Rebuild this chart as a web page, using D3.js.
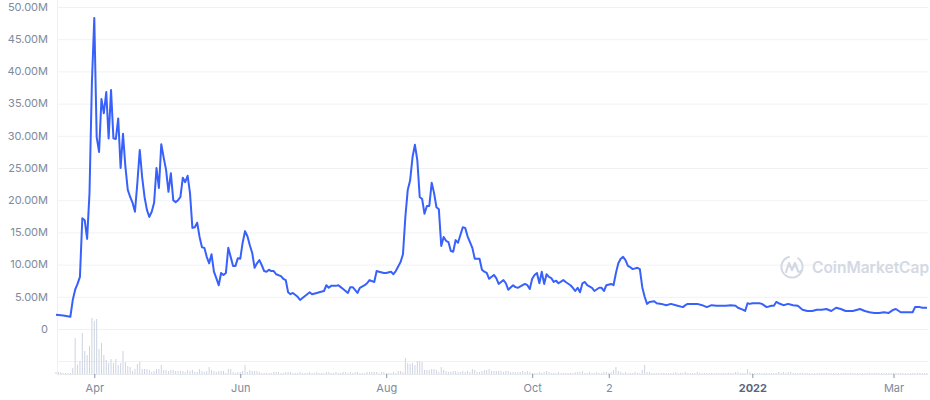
<!DOCTYPE html>
<html><head><meta charset="utf-8">
<script src="https://cdn.jsdelivr.net/npm/d3@7"></script>
<style>
body{margin:0;background:#fff}
svg{display:block;font-family:Inter,"Noto Sans",sans-serif}
</style>
</head><body>
<svg id="chart" width="930" height="400"></svg>
<script>
// ---- data ----
const startDate = "2021-03-16";
const endDate = "2022-03-15";
// price line: day offset from startDate, value in millions
const priceDays = [
  0,3,6,7,8,9,10,11,12,13,
  14,15,16,17,18,19,20,21,22,23,
  24,25,26,27,28,29,30,31,32,33,
  34,35,36,37,38,39,40,41,42,43,
  44,45,46,47,48,49,50,51,52,53,
  54,55,56,57,58,59,60,61,62,63,
  64,65,66,67,68,69,70,71,72,73,
  74,75,76,77,78,79,80,81,82,83,
  84,85,86,87,88,89,90,91,92,94,
  95,96,97,98,99,101,102,103,105,106,
  107,109,110,112,113,114,115,117,118,119,
  120,122,123,124,126,127,129,130,131,133,
  134,135,137,138,140,141,142,144,145,146,
  147,148,149,150,151,152,153,154,155,156,
  157,158,159,160,161,162,163,164,165,166,
  167,168,170,171,172,173,174,175,177,178,
  179,180,181,183,184,185,187,188,189,191,
  192,193,195,196,197,198,199,200,201,202,
  203,204,205,206,207,208,209,210,212,213,
  215,216,217,218,219,220,221,222,224,225,
  227,228,229,230,232,233,234,235,236,237,
  238,239,240,241,243,244,245,246,247,248,
  250,251,253,255,257,259,262,263,264,266,
  268,270,272,274,276,278,280,282,284,285,
  287,288,289,290,291,294,295,297,299,300,
  301,302,304,306,308,310,312,314,316,318,
  320,322,324,326,328,330,333,336,338,340,
  342,344,346,348,350,351,353,356,358,359,
  361,362,364
];
const priceValues = [
  2.2,2.1,1.9,4.5,6.1,7.0,8.1,17.2,16.9,14.0,
  21.1,38.2,48.3,29.8,27.5,35.7,33.5,36.8,29.6,37.1,
  29.6,29.5,32.7,25.0,30.3,25.2,21.6,20.5,19.6,18.2,
  22.7,27.8,23.6,20.5,18.5,17.4,18.2,19.6,25.0,21.9,
  28.7,26.6,24.7,21.3,24.2,20.0,19.7,20.0,20.5,23.5,
  22.8,23.8,21.1,15.7,15.8,16.5,14.3,12.7,12.6,11.2,
  10.2,11.6,8.9,7.9,6.8,8.7,8.4,8.7,12.6,11.2,
  9.8,9.8,11.0,10.9,13.4,15.2,14.4,13.0,11.8,9.5,
  10.2,10.7,9.9,9.0,8.9,9.2,9.0,9.0,8.5,8.2,
  7.8,7.6,5.7,5.4,5.6,5.0,4.5,4.8,5.4,5.7,
  5.4,5.6,5.7,5.9,6.8,6.4,6.7,6.7,6.8,6.5,
  6.2,5.6,6.5,6.5,5.6,6.4,6.8,7.1,7.6,7.3,
  9.0,8.9,8.7,8.7,8.9,8.5,9.0,10.4,11.6,17.4,
  21.6,23.1,26.7,28.6,26.2,20.5,20.2,17.9,19.1,19.1,
  22.7,21.1,18.9,18.6,12.9,14.3,13.7,13.5,12.1,12.0,
  13.8,13.4,15.8,15.7,14.4,13.5,12.6,10.9,10.9,9.2,
  8.9,8.7,7.8,8.4,7.9,7.0,7.6,7.1,6.1,6.8,
  6.5,6.4,6.8,7.0,6.8,6.2,7.8,8.4,8.7,7.1,
  8.9,7.0,8.5,8.1,7.9,7.3,7.5,7.1,7.6,7.3,
  6.8,6.4,5.9,6.4,5.7,7.1,7.3,6.8,6.4,5.9,
  6.4,6.4,5.9,6.8,7.0,6.8,8.7,10.2,10.9,11.2,
  10.7,9.8,9.6,9.3,9.5,9.3,6.5,5.0,3.9,4.2,
  4.3,4.0,3.9,3.7,3.9,3.7,3.4,3.7,3.9,3.9,
  3.9,3.7,3.4,3.7,3.6,3.6,3.6,3.7,3.6,3.3,
  3.0,2.8,4.0,3.9,4.0,4.0,3.9,3.4,3.6,3.6,
  4.2,4.0,3.7,3.9,3.7,3.6,3.0,2.8,2.8,3.0,
  3.0,3.1,2.8,3.3,3.1,2.8,2.8,3.1,2.8,2.6,
  2.5,2.5,2.6,2.5,3.0,3.1,2.6,2.6,2.6,3.4,
  3.4,3.3,3.3
];
// daily volume (relative units), one per day from startDate
const volumes = [
  6,6,6,3,3,3,3,18,108,28,
  39,123,69,57,85,168,159,165,75,93,
  57,42,33,45,33,45,27,33,69,36,
  24,21,9,15,30,36,15,15,15,12,
  6,9,15,15,27,12,12,9,12,12,
  9,9,9,9,6,12,9,12,6,6,
  15,9,6,9,21,12,9,6,9,9,
  9,3,15,15,6,3,6,6,9,27,
  6,12,9,9,9,6,3,3,3,3,
  3,6,6,6,3,3,6,6,6,3,
  3,3,6,3,3,3,6,3,3,6,
  3,3,3,6,6,3,3,6,3,3,
  6,6,3,6,3,6,6,3,3,3,
  6,6,6,6,6,3,6,6,3,3,
  3,6,3,9,9,6,48,33,30,33,
  27,39,39,36,12,12,12,15,15,12,
  6,21,12,9,6,6,9,9,6,6,
  9,6,9,6,15,12,6,6,9,12,
  12,15,9,9,9,9,9,6,9,9,
  6,6,6,6,6,9,6,9,6,3,
  3,3,6,3,6,9,6,3,3,3,
  6,3,3,3,3,3,3,5,6,6,
  9,3,3,6,3,3,6,3,3,6,
  6,3,6,12,21,9,6,3,6,3,
  3,3,6,3,3,12,27,6,6,3,
  3,3,3,3,3,3,3,3,3,6,
  3,3,3,6,3,3,3,3,6,3,
  3,3,3,3,3,3,3,3,3,3,
  3,3,3,3,6,6,3,3,3,15,
  6,3,3,3,3,3,3,3,3,3,
  3,3,6,3,6,3,6,6,3,3,
  3,3,3,3,3,3,3,3,3,3,
  3,3,3,3,3,3,3,3,3,3,
  3,3,3,3,3,3,3,3,3,3,
  3,3,3,3,3,3,3,3,3,3,
  3,3,3,3,3,3,3,3,3,3,
  3,3,3,3,3
];
const yTicks = [0,5,10,15,20,25,30,35,40,45,50];
const xTickDates = ["2021-04-01","2021-06-01","2021-08-01","2021-10-01","2021-11-02","2022-01-01","2022-03-01"];
const xTickLabels = ["Apr","Jun","Aug","Oct","2","2022","Mar"];
const volumeMax = 168;
const volumeGridValue = 39;

// ---- chart ----
const parse = d3.timeParse("%Y-%m-%d");
const t0 = parse(startDate), t1 = parse(endDate);
const svg = d3.select("#chart");
const x = d3.scaleTime().domain([t0, t1]).range([56, 927]);
const y = d3.scaleLinear().domain([0, 50]).range([329, 7]);
const yv = d3.scaleLinear().domain([0, volumeMax]).range([374, 318]);
const plotL = 57, plotR = 928;

const grid = svg.append("g");
grid.selectAll("line.h").data(yTicks).join("line")
  .attr("x1", plotL).attr("x2", plotR)
  .attr("y1", d => y(d) + 0.5).attr("y2", d => y(d) + 0.5)
  .attr("stroke", "#eff2f5").attr("stroke-width", 1);
grid.append("line").attr("x1", plotL).attr("x2", plotR)
  .attr("y1", yv(volumeGridValue) + 0.5).attr("y2", yv(volumeGridValue) + 0.5)
  .attr("stroke", "#eff2f5");
grid.append("line").attr("x1", plotL + 0.5).attr("x2", plotL + 0.5)
  .attr("y1", 0).attr("y2", yv(0))
  .attr("stroke", "#eff2f5");

// y labels
svg.append("g").selectAll("text").data(yTicks).join("text")
  .attr("x", 48).attr("y", d => y(d)).attr("dy", "0.35em")
  .attr("text-anchor", "end").attr("font-size", 11).attr("fill", "#808a9d")
  .text(d => d === 0 ? "0" : d.toFixed(2) + "M");

// volume bars
const volData = volumes.map((v, i) => ({ date: d3.timeDay.offset(t0, i), v }));
svg.append("g").selectAll("rect").data(volData).join("rect")
  .attr("x", d => x(d.date) - 0.5).attr("width", 1)
  .attr("y", d => yv(d.v)).attr("height", d => yv(0) - yv(d.v))
  .attr("fill", "#cdd4e1");

// x axis
const xAxis = d3.axisBottom(x)
  .tickValues(xTickDates.map(parse))
  .tickFormat((d, i) => xTickLabels[i])
  .tickSize(4).tickSizeOuter(0).tickPadding(6);
const gx = svg.append("g").attr("transform", `translate(0,${yv(0)})`).call(xAxis);
gx.select(".domain").attr("stroke", "#e6e9ee").attr("d", `M${plotL},0.5H${plotR}`);
gx.selectAll(".tick line").attr("stroke", "#8a91a5");
gx.selectAll(".tick text").attr("font-size", 11).attr("fill", "#808a9d")
  .attr("font-family", "Inter,'Noto Sans',sans-serif")
  .attr("font-weight", (d, i) => xTickLabels[i] === "2022" ? 700 : 400)
  .attr("fill", (d, i) => xTickLabels[i] === "2022" ? "#58667e" : "#808a9d");

// watermark
const wm = svg.append("g").attr("transform", "translate(792,267)");
wm.append("path")
  .attr("d", d3.arc()({ innerRadius: 9.6, outerRadius: 11.6, startAngle: 0.55, endAngle: 2 * Math.PI - 0.2 }))
  .attr("fill", "#d3d9e4").attr("transform", "rotate(0)");
wm.append("path")
  .attr("d", "M-6,5 L-3,-4 L0,3 L3,-4 L6,4 Q7,6 9,4")
  .attr("fill", "none").attr("stroke", "#d3d9e4").attr("stroke-width", 2.2)
  .attr("stroke-linejoin", "round").attr("stroke-linecap", "round");
wm.append("text").attr("x", 20).attr("y", 0).attr("dy", "0.36em")
  .attr("font-size", 15.5).attr("font-weight", 600).attr("fill", "#d3d9e4")
  .text("CoinMarketCap");

// price line
const priceData = priceDays.map((d, i) => ({ date: d3.timeDay.offset(t0, d), v: priceValues[i] }));
const line = d3.line().x(d => x(d.date)).y(d => y(d.v));
svg.append("path").datum(priceData)
  .attr("d", line).attr("fill", "none")
  .attr("stroke", "#3861fb").attr("stroke-width", 2)
  .attr("stroke-linejoin", "round");
</script>
</body></html>
